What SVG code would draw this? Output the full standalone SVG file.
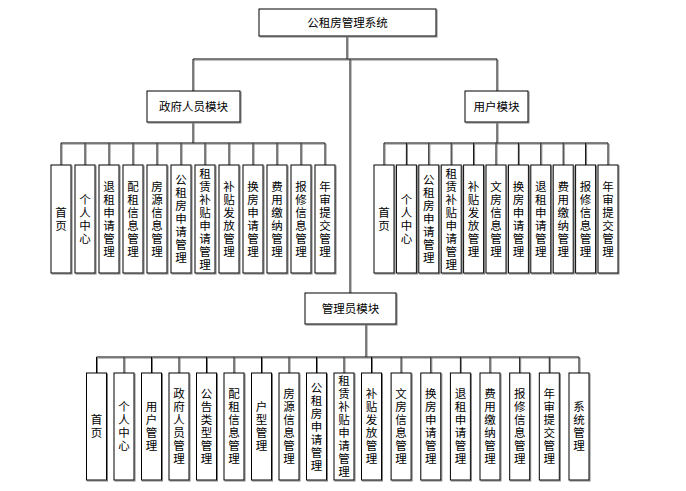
<svg xmlns="http://www.w3.org/2000/svg" width="686" height="491" viewBox="0 0 686 491">
<defs>
<filter id="sh" x="-20%" y="-20%" width="140%" height="140%">
<feOffset in="SourceAlpha" dx="1.2" dy="1.2" result="o"/>
<feFlood flood-color="#808080"/>
<feComposite in2="o" operator="in" result="s"/>
<feMerge><feMergeNode in="s"/><feMergeNode in="SourceGraphic"/></feMerge>
</filter>
<style>
rect{fill:#fff;stroke:#000;stroke-width:1;filter:url(#sh)}
.c path{fill:none;stroke:#000;stroke-width:1;filter:url(#sh)}
text{font-family:"Noto Sans CJK SC","Noto Sans",sans-serif;font-size:11.5px;fill:#000;text-anchor:middle}
.v{writing-mode:vertical-rl;letter-spacing:1.5px}
</style>
</defs>
<rect x="0" y="0" width="686" height="491" style="fill:#fff;stroke:none;filter:none"/>
<g class="c" id="connectors">
<path d="M347 36V59M193 59H497M193 59V91M497 59V91M350 59V293"/>
<path d="M193 122V143M61 143H325M61 143V165M85 143V165M109 143V165M133 143V165M157 143V165M181 143V165M205 143V165M229 143V165M253 143V165M277 143V165M301 143V165M325 143V165"/>
<path d="M497 122V143M384 143H608M384 143V165M406.4 143V165M428.8 143V165M451.2 143V165M473.6 143V165M496 143V165M518.4 143V165M540.8 143V165M563.2 143V165M585.6 143V165M608 143V165"/>
<path d="M366 324V357M96.5 357H579M96.5 357V373M124 357V373M151.5 357V373M179 357V373M206.5 357V373M234 357V373M261.5 357V373M289 357V373M316.5 357V373M344 357V373M371.5 357V373M401.1 357V373M430.8 357V373M460.4 357V373M490 357V373M519.7 357V373M549.3 357V373M579 357V373"/>
</g>
<g id="root"><rect x="259" y="9" width="177" height="27"/><text x="347.5" y="26.5">公租房管理系统</text></g>
<g id="gov"><rect x="147" y="91" width="93" height="31"/><text x="193.5" y="110.5">政府人员模块</text></g>
<g id="user"><rect x="465" y="91" width="63" height="31"/><text x="496.5" y="110.5">用户模块</text></g>
<g id="admin"><rect x="305" y="293" width="91" height="31"/><text x="350.5" y="312.5">管理员模块</text></g>

<g id="g0"><rect x="51" y="165" width="20" height="108"/><text class="v" x="61" y="219.7">首页</text></g>
<g id="g1"><rect x="75" y="165" width="20" height="108"/><text class="v" x="85" y="219.7">个人中心</text></g>
<g id="g2"><rect x="99" y="165" width="20" height="108"/><text class="v" x="109" y="219.7">退租申请管理</text></g>
<g id="g3"><rect x="123" y="165" width="20" height="108"/><text class="v" x="133" y="219.7">配租信息管理</text></g>
<g id="g4"><rect x="147" y="165" width="20" height="108"/><text class="v" x="157" y="219.7">房源信息管理</text></g>
<g id="g5"><rect x="171" y="165" width="20" height="108"/><text class="v" x="181" y="219.7">公租房申请管理</text></g>
<g id="g6"><rect x="195" y="165" width="20" height="108"/><text class="v" x="205" y="219.7">租赁补贴申请管理</text></g>
<g id="g7"><rect x="219" y="165" width="20" height="108"/><text class="v" x="229" y="219.7">补贴发放管理</text></g>
<g id="g8"><rect x="243" y="165" width="20" height="108"/><text class="v" x="253" y="219.7">换房申请管理</text></g>
<g id="g9"><rect x="267" y="165" width="20" height="108"/><text class="v" x="277" y="219.7">费用缴纳管理</text></g>
<g id="g10"><rect x="291" y="165" width="20" height="108"/><text class="v" x="301" y="219.7">报修信息管理</text></g>
<g id="g11"><rect x="315" y="165" width="20" height="108"/><text class="v" x="325" y="219.7">年审提交管理</text></g>

<g id="u0"><rect x="374" y="165" width="20" height="108"/><text class="v" x="384" y="219.7">首页</text></g>
<g id="u1"><rect x="396.4" y="165" width="20" height="108"/><text class="v" x="406.4" y="219.7">个人中心</text></g>
<g id="u2"><rect x="418.8" y="165" width="20" height="108"/><text class="v" x="428.8" y="219.7">公租房申请管理</text></g>
<g id="u3"><rect x="441.2" y="165" width="20" height="108"/><text class="v" x="451.2" y="219.7">租赁补贴申请管理</text></g>
<g id="u4"><rect x="463.6" y="165" width="20" height="108"/><text class="v" x="473.6" y="219.7">补贴发放管理</text></g>
<g id="u5"><rect x="486" y="165" width="20" height="108"/><text class="v" x="496" y="219.7">文房信息管理</text></g>
<g id="u6"><rect x="508.4" y="165" width="20" height="108"/><text class="v" x="518.4" y="219.7">换房申请管理</text></g>
<g id="u7"><rect x="530.8" y="165" width="20" height="108"/><text class="v" x="540.8" y="219.7">退租申请管理</text></g>
<g id="u8"><rect x="553.2" y="165" width="20" height="108"/><text class="v" x="563.2" y="219.7">费用缴纳管理</text></g>
<g id="u9"><rect x="575.6" y="165" width="20" height="108"/><text class="v" x="585.6" y="219.7">报修信息管理</text></g>
<g id="u10"><rect x="598" y="165" width="20" height="108"/><text class="v" x="608" y="219.7">年审提交管理</text></g>

<g id="a0"><rect x="86.5" y="373" width="20" height="107"/><text class="v" x="96.5" y="427.2">首页</text></g>
<g id="a1"><rect x="114" y="373" width="20" height="107"/><text class="v" x="124" y="427.2">个人中心</text></g>
<g id="a2"><rect x="141.5" y="373" width="20" height="107"/><text class="v" x="151.5" y="427.2">用户管理</text></g>
<g id="a3"><rect x="169" y="373" width="20" height="107"/><text class="v" x="179" y="427.2">政府人员管理</text></g>
<g id="a4"><rect x="196.5" y="373" width="20" height="107"/><text class="v" x="206.5" y="427.2">公告类型管理</text></g>
<g id="a5"><rect x="224" y="373" width="20" height="107"/><text class="v" x="234" y="427.2">配租信息管理</text></g>
<g id="a6"><rect x="251.5" y="373" width="20" height="107"/><text class="v" x="261.5" y="427.2">户型管理</text></g>
<g id="a7"><rect x="279" y="373" width="20" height="107"/><text class="v" x="289" y="427.2">房源信息管理</text></g>
<g id="a8"><rect x="306.5" y="373" width="20" height="107"/><text class="v" x="316.5" y="427.2">公租房申请管理</text></g>
<g id="a9"><rect x="334" y="373" width="20" height="107"/><text class="v" x="344" y="427.2">租赁补贴申请管理</text></g>
<g id="a10"><rect x="361.5" y="373" width="20" height="107"/><text class="v" x="371.5" y="427.2">补贴发放管理</text></g>
<g id="a11"><rect x="391.1" y="373" width="20" height="107"/><text class="v" x="401.1" y="427.2">文房信息管理</text></g>
<g id="a12"><rect x="420.8" y="373" width="20" height="107"/><text class="v" x="430.8" y="427.2">换房申请管理</text></g>
<g id="a13"><rect x="450.4" y="373" width="20" height="107"/><text class="v" x="460.4" y="427.2">退租申请管理</text></g>
<g id="a14"><rect x="480" y="373" width="20" height="107"/><text class="v" x="490" y="427.2">费用缴纳管理</text></g>
<g id="a15"><rect x="509.7" y="373" width="20" height="107"/><text class="v" x="519.7" y="427.2">报修信息管理</text></g>
<g id="a16"><rect x="539.3" y="373" width="20" height="107"/><text class="v" x="549.3" y="427.2">年审提交管理</text></g>
<g id="a17"><rect x="569" y="373" width="20" height="107"/><text class="v" x="579" y="427.2">系统管理</text></g>
</svg>
